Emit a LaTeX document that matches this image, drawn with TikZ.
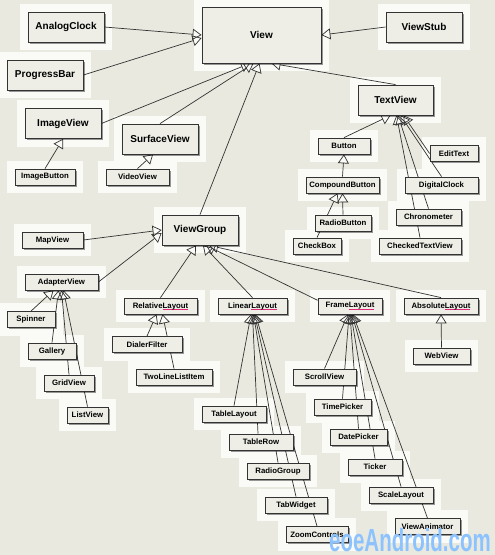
\documentclass[tikz,border=0pt]{standalone}
\usepackage{fontspec}
\usepackage{graphicx}
\setmainfont{Liberation Sans}
\usetikzlibrary{arrows.meta,shadows,calc}
\definecolor{bgc}{HTML}{E9E9DF}
\definecolor{haloc}{HTML}{FAFAF7}
\definecolor{boxc}{HTML}{EEEEE7}
\definecolor{linec}{HTML}{333333}
\definecolor{splc}{RGB}{225,40,120}
\definecolor{wmc}{RGB}{140,195,255}
\pgfdeclarelayer{bg}
\pgfdeclarelayer{halo}
\pgfdeclarelayer{lines}
\pgfsetlayers{bg,halo,lines,main}
\newcommand\spl[1]{{\setbox0=\hbox{#1}\rlap{\textcolor{splc}{\rule[-1.4pt]{\wd0}{0.6pt}}}\box0}}
\tikzset{
  cls/.style={draw=linec, line width=0.8pt, fill=boxc, inner sep=0pt,
    font=\bfseries\fontsize{10}{12}\selectfont,
    drop shadow={shadow xshift=1.8pt, shadow yshift=-1.8pt, opacity=0.4, fill=black}},
  big/.style={cls, minimum height=30pt},
  small/.style={cls, minimum height=16pt, font=\bfseries\fontsize{7.8}{9}\selectfont},
  inh/.style={draw=linec, line width=0.7pt,
    -{Triangle[open, length=9pt, width=11pt, line width=0.7pt]}},
}
\begin{document}
\begin{tikzpicture}[x=1pt,y=-1pt]
\useasboundingbox (0,0) rectangle (495,555);
\begin{pgfonlayer}{bg}
\fill[bgc] (0,0) rectangle (495,555);
\end{pgfonlayer}

% big boxes
\node[big, minimum width=119pt, minimum height=56pt] (View) at (261.5,35) {View};
\node[big, minimum width=76pt] (AnalogClock) at (66,27) {AnalogClock};
\node[big, minimum width=76pt] (ViewStub) at (424,27) {ViewStub};
\node[big, minimum width=76pt] (ProgressBar) at (45,75) {ProgressBar};
\node[big, minimum width=76pt] (ImageView) at (63,123.5) {ImageView};
\node[big, minimum width=76pt] (SurfaceView) at (160,139) {SurfaceView};
\node[big, minimum width=75pt] (TextView) at (395.5,100) {TextView};
\node[big, minimum width=76pt] (ViewGroup) at (200,230) {ViewGroup};

% small boxes
\node[small, minimum width=60pt] (ImageButton) at (45,177) {ImageButton};
\node[small, minimum width=63pt] (VideoView) at (137.5,177) {VideoView};
\node[small, minimum width=52pt] (Button) at (344,146) {Button};
\node[small, minimum width=48pt] (EditText) at (454,153.5) {EditText};
\node[small, minimum width=73pt] (CompoundButton) at (342.5,185) {CompoundButton};
\node[small, minimum width=73pt] (DigitalClock) at (441.5,185) {DigitalClock};
\node[small, minimum width=56pt] (RadioButton) at (343,223) {RadioButton};
\node[small, minimum width=65pt] (Chronometer) at (428.5,217) {Chronometer};
\node[small, minimum width=48pt] (CheckBox) at (317,246) {CheckBox};
\node[small, minimum width=82pt] (CheckedTextView) at (420,246) {CheckedTextView};
\node[small, minimum width=61pt] (MapView) at (52.5,240) {MapView};
\node[small, minimum width=73pt] (AdapterView) at (61.5,282) {AdapterView};
\node[small, minimum width=73pt] (RelativeLayout) at (160.5,306) {Relative\spl{Layout}};
\node[small, minimum width=69pt] (LinearLayout) at (252.5,306) {Linear\spl{Layout}};
\node[small, minimum width=64pt] (FrameLayout) at (350,306) {Frame\spl{Layout}};
\node[small, minimum width=74pt] (AbsoluteLayout) at (441,306) {Absolute\spl{Layout}};
\node[small, minimum width=48pt] (Spinner) at (31,319.5) {Spinner};
\node[small, minimum width=48pt] (Gallery) at (52,351) {Gallery};
\node[small, minimum width=50pt] (GridView) at (69,383) {GridView};
\node[small, minimum width=41pt] (ListView) at (87.5,415) {ListView};
\node[small, minimum width=70pt] (DialerFilter) at (147,344.5) {DialerFilter};
\node[small, minimum width=76pt] (TwoLineListItem) at (174,377) {TwoLineListItem};
\node[small, minimum width=57pt] (WebView) at (441.5,356) {WebView};
\node[small, minimum width=63pt] (ScrollView) at (324.5,377) {ScrollView};
\node[small, minimum width=64pt] (TableLayout) at (234,414) {TableLayout};
\node[small, minimum width=57pt] (TimePicker) at (342.5,407) {TimePicker};
\node[small, minimum width=64pt] (TableRow) at (261,442) {TableRow};
\node[small, minimum width=57pt] (DatePicker) at (358.5,437) {DatePicker};
\node[small, minimum width=62pt] (RadioGroup) at (278,471) {RadioGroup};
\node[small, minimum width=54pt] (Ticker) at (375,467) {Ticker};
\node[small, minimum width=64pt] (ScaleLayout) at (401,495) {ScaleLayout};
\node[small, minimum width=62pt] (TabWidget) at (296,505) {TabWidget};
\node[small, minimum width=65pt] (ViewAnimator) at (427.5,526.5) {ViewAnimator};
\node[small, minimum width=62pt] (ZoomControls) at (317,534.5) {ZoomControls};

% white halos behind boxes
\begin{pgfonlayer}{halo}
\foreach \n in {View,AnalogClock,ViewStub,ProgressBar,ImageView,SurfaceView,TextView,ViewGroup,
  ImageButton,VideoView,Button,EditText,CompoundButton,DigitalClock,RadioButton,Chronometer,
  CheckBox,CheckedTextView,MapView,AdapterView,RelativeLayout,LinearLayout,FrameLayout,
  AbsoluteLayout,Spinner,Gallery,GridView,ListView,DialerFilter,TwoLineListItem,WebView,
  ScrollView,TableLayout,TimePicker,TableRow,DatePicker,RadioGroup,Ticker,ScaleLayout,
  TabWidget,ViewAnimator,ZoomControls}
  \fill[haloc] ($(\n.north west)+(-8,-8)$) rectangle ($(\n.south east)+(8,8)$);
\end{pgfonlayer}

% inheritance connectors
\begin{pgfonlayer}{lines}
\draw[inh] (AnalogClock.east) -- (View.west);
\draw[inh] (ProgressBar.east) -- ($(View.west)+(0,3)$);
\draw[inh] (ViewStub.west) -- (View.east);
\draw[inh] (ImageView.east) -- ($(View.south)+(-11.5,0)$);
\draw[inh] (SurfaceView.north) -- ($(View.south)+(-8,0)$);
\draw[inh] (ViewGroup.north) -- ($(View.south)+(-2,0)$);
\draw[inh] (TextView.north) -- ($(View.south)+(10,0)$);

\draw[inh] (ImageButton.north) -- (ImageView.south);
\draw[inh] (VideoView.north) -- ($(SurfaceView.south)+(-7,0)$);

\draw[inh] (Button.north) -- ($(TextView.south)+(-5,0)$);
\draw[inh] (EditText.west) -- ($(TextView.south)+(8,0)$);
\draw[inh] (DigitalClock.north) -- ($(TextView.south)+(5,0)$);
\draw[inh] (Chronometer.north) -- ($(TextView.south)+(2.5,0)$);
\draw[inh] (CheckedTextView.north) -- ($(TextView.south)+(1,0)$);
\draw[inh] (CompoundButton.north) -- (Button.south);
\draw[inh] (RadioButton.north) -- (CompoundButton.south);
\draw[inh] (CheckBox.north) -- ($(CompoundButton.south)+(-5,0)$);

\draw[inh] (MapView.east) -- (ViewGroup.west);
\draw[inh] (AdapterView.east) -- ($(ViewGroup.west)+(0,3)$);
\draw[inh] (RelativeLayout.north) -- ($(ViewGroup.south)+(-4,0)$);
\draw[inh] (LinearLayout.north) -- ($(ViewGroup.south)+(3,0)$);
\draw[inh] (FrameLayout.170) -- ($(ViewGroup.south)+(6,0)$);
\draw[inh] (AbsoluteLayout.north) -- ($(ViewGroup.south)+(9,0)$);

\draw[inh] (Spinner.north) -- ($(AdapterView.south)+(-8,0)$);
\draw[inh] (Gallery.north) -- ($(AdapterView.south)+(-3,0)$);
\draw[inh] (GridView.north) -- (AdapterView.south);
\draw[inh] (ListView.north) -- ($(AdapterView.south)+(2,0)$);

\draw[inh] (DialerFilter.north) -- ($(RelativeLayout.south)+(-4,0)$);
\draw[inh] (TwoLineListItem.north) -- ($(RelativeLayout.south)+(2,0)$);

\draw[inh] (TableLayout.north) -- ($(LinearLayout.south)+(-1.5,0)$);
\draw[inh] ($(TableRow.north)+(-3,0)$) -- (LinearLayout.south);
\draw[inh] (RadioGroup.north) -- ($(LinearLayout.south)+(1,0)$);
\draw[inh] (TabWidget.north) -- ($(LinearLayout.south)+(2,0)$);
\draw[inh] (ZoomControls.north) -- ($(LinearLayout.south)+(3,0)$);

\draw[inh] (ScrollView.north) -- ($(FrameLayout.south)+(-2,0)$);
\draw[inh] (TimePicker.north) -- ($(FrameLayout.south)+(-1,0)$);
\draw[inh] (DatePicker.north) -- (FrameLayout.south);
\draw[inh] (Ticker.north) -- ($(FrameLayout.south)+(1,0)$);
\draw[inh] (ScaleLayout.north) -- ($(FrameLayout.south)+(2,0)$);
\draw[inh] (ViewAnimator.north) -- ($(FrameLayout.south)+(3,0)$);

\draw[inh] (WebView.north) -- (AbsoluteLayout.south);
\end{pgfonlayer}

% watermark
\node[anchor=base west, text=wmc, inner sep=0pt,
  font=\bfseries\fontsize{32}{32}\selectfont] (wm) at (329,551)
  {\scalebox{0.64}[1]{eoeAndroid.com}};
\end{tikzpicture}
\end{document}
